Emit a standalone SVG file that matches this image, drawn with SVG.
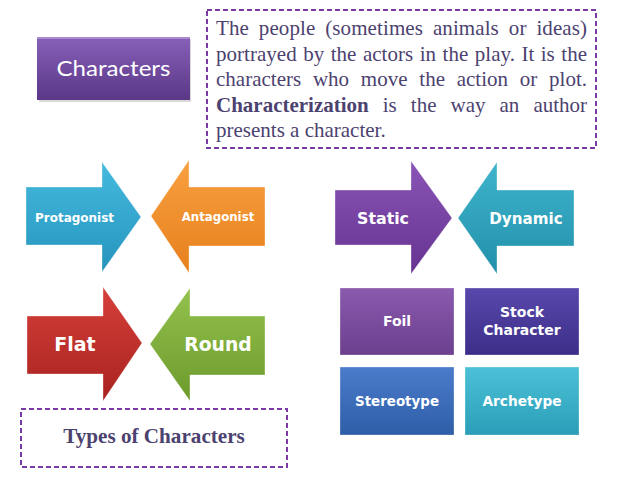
<svg xmlns="http://www.w3.org/2000/svg" width="638" height="478" viewBox="0 0 638 478">
<defs>
<linearGradient id="gPurpleBox" x1="0" y1="0" x2="0" y2="1"><stop offset="0" stop-color="#8760b8"/><stop offset="1" stop-color="#5a3787"/></linearGradient>
<linearGradient id="gBlue" x1="0" y1="0" x2="0" y2="1"><stop offset="0" stop-color="#46badf"/><stop offset="1" stop-color="#2594bd"/></linearGradient>
<linearGradient id="gOrange" x1="0" y1="0" x2="0" y2="1"><stop offset="0" stop-color="#f9a041"/><stop offset="1" stop-color="#e6801c"/></linearGradient>
<linearGradient id="gViolet" x1="0" y1="0" x2="0" y2="1"><stop offset="0" stop-color="#8a55b6"/><stop offset="1" stop-color="#663392"/></linearGradient>
<linearGradient id="gTeal" x1="0" y1="0" x2="0" y2="1"><stop offset="0" stop-color="#3fb4cc"/><stop offset="1" stop-color="#2290aa"/></linearGradient>
<linearGradient id="gRed" x1="0" y1="0" x2="0" y2="1"><stop offset="0" stop-color="#d6403a"/><stop offset="1" stop-color="#a8221f"/></linearGradient>
<linearGradient id="gGreen" x1="0" y1="0" x2="0" y2="1"><stop offset="0" stop-color="#93c24e"/><stop offset="1" stop-color="#6c9a2c"/></linearGradient>
<linearGradient id="gFoil" x1="0" y1="0" x2="0" y2="1"><stop offset="0" stop-color="#8a5aae"/><stop offset="1" stop-color="#6c3f8e"/></linearGradient>
<linearGradient id="gStock" x1="0" y1="0" x2="0" y2="1"><stop offset="0" stop-color="#5848ac"/><stop offset="1" stop-color="#3c2e88"/></linearGradient>
<linearGradient id="gStereo" x1="0" y1="0" x2="0" y2="1"><stop offset="0" stop-color="#4a7ccb"/><stop offset="1" stop-color="#2f5ea8"/></linearGradient>
<linearGradient id="gArche" x1="0" y1="0" x2="0" y2="1"><stop offset="0" stop-color="#4cc0d6"/><stop offset="1" stop-color="#2a9eb8"/></linearGradient>
</defs>
<style>
.dash{fill:#ffffff;stroke:#7a3aa6;stroke-width:2;stroke-dasharray:5 3}
.para{font-family:"Liberation Serif","Times New Roman",serif;font-size:21px;fill:#4c4270}
.lbl{font-family:"DejaVu Sans",Verdana,sans-serif;font-weight:bold;fill:#ffffff;text-anchor:middle}
.arrow{stroke:#ffffff;stroke-opacity:0.35;stroke-width:1}
.box{stroke:#ffffff;stroke-opacity:0.3;stroke-width:1}
</style>
<rect width="638" height="478" fill="#ffffff"/>

<g id="characters">
<rect x="39" y="39" width="152" height="63" fill="#000" opacity="0.15"/>
<rect x="37" y="37" width="153" height="63" fill="url(#gPurpleBox)"/>
<rect x="37" y="37" width="153" height="2" fill="#a98ad0"/>
<text x="113.5" y="76" font-family="Lato,'Open Sans',sans-serif" font-size="21" fill="#ffffff" text-anchor="middle" textLength="114" lengthAdjust="spacingAndGlyphs">Characters</text>
</g>

<g id="definition">
<rect class="dash" x="207" y="10" width="389" height="138"/>
<text class="para" x="216" y="35" word-spacing="4.6" textLength="371" lengthAdjust="spacing">The people (sometimes animals or ideas)</text>
<text class="para" x="216" y="60.5" word-spacing="1.2" textLength="371" lengthAdjust="spacing">portrayed by the actors in the play. It is the</text>
<text class="para" x="216" y="86" word-spacing="6.5" textLength="371" lengthAdjust="spacing">characters who move the action or plot.</text>
<text class="para" x="216" y="111.5" word-spacing="8.8" textLength="371" lengthAdjust="spacing"><tspan font-weight="bold">Characterization</tspan> is the way an author</text>
<text class="para" x="216" y="137">presents a character.</text>
</g>

<g id="protagonist">
<path class="arrow" d="M26,187 L102,187 L102,162 L141,217 L102,272 L102,245 L26,245 Z" fill="url(#gBlue)"/>
<text class="lbl" x="74.5" y="221.5" font-size="12" textLength="79" lengthAdjust="spacingAndGlyphs">Protagonist</text>
</g>

<g id="antagonist">
<path class="arrow" d="M265,187 L189,187 L189,160 L151,216 L189,273 L189,246 L265,246 Z" fill="url(#gOrange)"/>
<text class="lbl" x="218" y="221" font-size="12" textLength="72.6" lengthAdjust="spacingAndGlyphs">Antagonist</text>
</g>

<g id="static">
<path class="arrow" d="M335,190 L411,190 L411,161 L452,218 L411,274 L411,245 L335,245 Z" fill="url(#gViolet)"/>
<text class="lbl" x="383" y="224" font-size="16" textLength="52" lengthAdjust="spacingAndGlyphs">Static</text>
</g>

<g id="dynamic">
<path class="arrow" d="M574,190 L497,190 L497,162 L458,218 L497,274 L497,246 L574,246 Z" fill="url(#gTeal)"/>
<text class="lbl" x="526" y="223.5" font-size="15.5" textLength="73.4" lengthAdjust="spacingAndGlyphs">Dynamic</text>
</g>

<g id="flat">
<path class="arrow" d="M27,316 L103,316 L103,287 L142,343 L103,401 L103,374 L27,374 Z" fill="url(#gRed)"/>
<text class="lbl" x="75" y="351" font-size="19" textLength="41.4" lengthAdjust="spacingAndGlyphs">Flat</text>
</g>

<g id="round">
<path class="arrow" d="M265,316 L190,316 L190,288 L150,344 L190,401 L190,375 L265,375 Z" fill="url(#gGreen)"/>
<text class="lbl" x="218" y="351" font-size="19" textLength="67.4" lengthAdjust="spacingAndGlyphs">Round</text>
</g>

<g id="types">
<rect class="dash" x="21" y="409" width="266" height="58"/>
<text x="154" y="442.5" font-family="'Liberation Serif','Times New Roman',serif" font-size="21" font-weight="bold" fill="#4c4270" text-anchor="middle" textLength="181.7" lengthAdjust="spacingAndGlyphs">Types of Characters</text>
</g>

<g id="foil">
<rect class="box" x="340" y="288" width="114" height="67" fill="url(#gFoil)"/>
<text class="lbl" x="397" y="326" font-size="14">Foil</text>
</g>

<g id="stock">
<rect class="box" x="465" y="288" width="114" height="67" fill="url(#gStock)"/>
<text class="lbl" x="522" y="317" font-size="14">Stock</text>
<text class="lbl" x="522" y="335" font-size="14">Character</text>
</g>

<g id="stereotype">
<rect class="box" x="340" y="367" width="114" height="68" fill="url(#gStereo)"/>
<text class="lbl" x="397" y="406" font-size="14" textLength="84" lengthAdjust="spacingAndGlyphs">Stereotype</text>
</g>

<g id="archetype">
<rect class="box" x="465" y="367" width="114" height="68" fill="url(#gArche)"/>
<text class="lbl" x="522" y="406" font-size="14" textLength="79" lengthAdjust="spacingAndGlyphs">Archetype</text>
</g>

<g id="connectors"/>
</svg>
